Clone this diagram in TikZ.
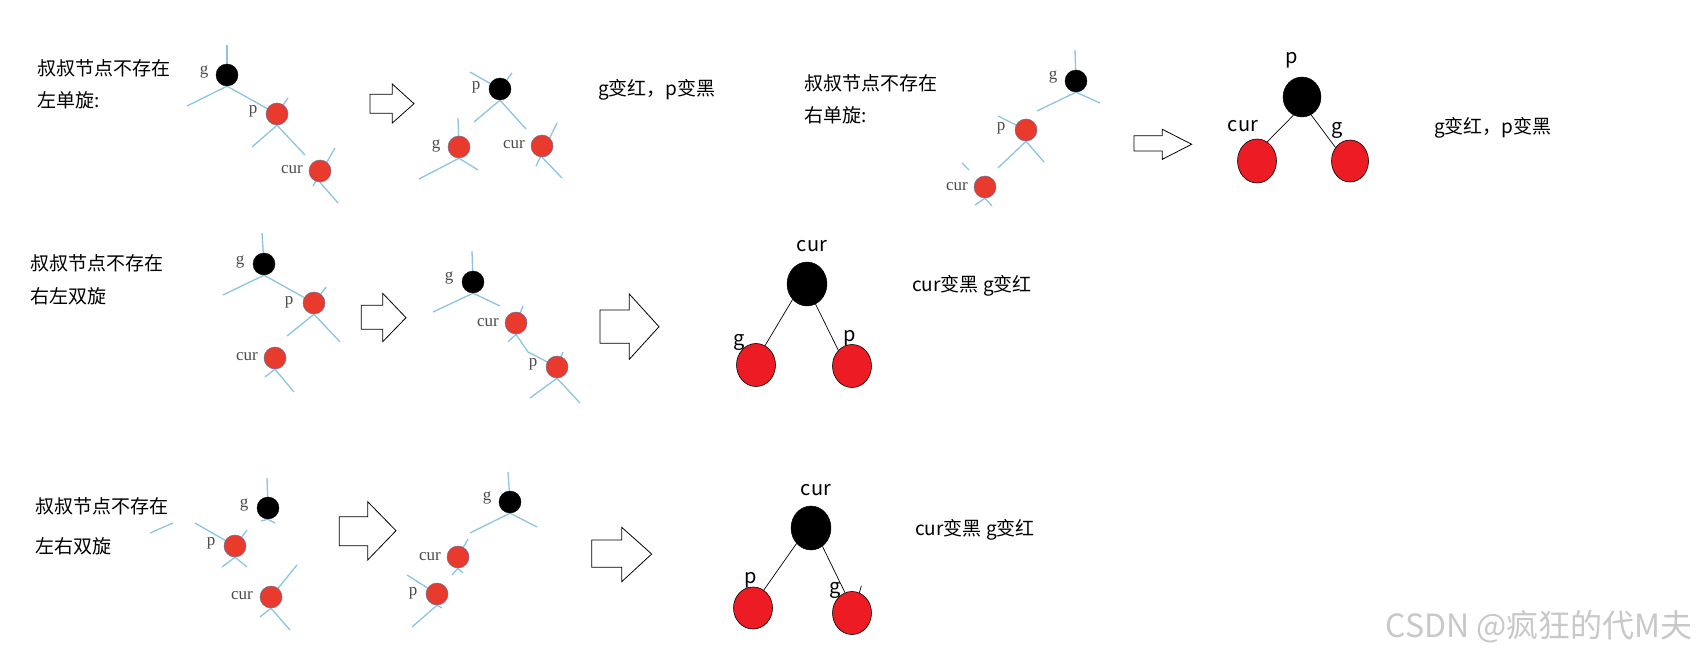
\documentclass[tikz,border=0pt]{standalone}
\usepackage{fontspec}
\setmainfont{Liberation Serif}
\newfontfamily\cjk{Noto Sans CJK SC}
\usetikzlibrary{shapes.geometric,backgrounds}
\definecolor{lineblue}{RGB}{140,196,228}
\definecolor{nodered}{RGB}{232,58,45}
\definecolor{paintred}{RGB}{237,28,36}
\definecolor{lblgray}{RGB}{75,75,75}
\definecolor{wmgray}{RGB}{200,200,200}
\definecolor{rimgray}{RGB}{110,110,150}
\begin{document}
\begin{tikzpicture}[x=1pt,y=-1pt,
  sblack/.style={circle,fill=black,draw=black,minimum size=22pt,inner sep=0pt},
  sred/.style={circle,fill=nodered,draw=rimgray,line width=0.5pt,minimum size=22pt,inner sep=0pt},
  bblack/.style={ellipse,fill=black,draw=black,minimum width=39pt,minimum height=42pt,inner sep=0pt},
  bred/.style={ellipse,fill=paintred,draw=black,line width=0.6pt,minimum width=39pt,minimum height=43pt,inner sep=0pt},
  slbl/.style={text=lblgray,font=\fontsize{17}{17}\selectfont,inner sep=0pt},
  blbl/.style={font=\cjk\fontsize{20}{20}\selectfont,inner sep=0pt},
  txt/.style={anchor=west,font=\cjk\fontsize{19}{19}\selectfont,inner sep=0pt},
  bline/.style={draw=lineblue,line width=1.3pt},
  kline/.style={draw=black,line width=0.7pt},
  blockarrow/.style={draw=black,fill=white,line width=0.8pt,line join=miter}]
\useasboundingbox (0,0) rectangle (1698,658);

% ---------- texts ----------
\node[txt] (t1a) at (37,68) {叔叔节点不存在};
\node[txt] (t1b) at (37,100) {左单旋:};
\node[txt] (r1)  at (598,90) {g变红，p变黑};
\node[txt] (t2a) at (804,83) {叔叔节点不存在};
\node[txt] (t2b) at (804,115) {右单旋:};
\node[txt] (r2)  at (1434,128) {g变红，p变黑};
\node[txt] (t3a) at (30,263) {叔叔节点不存在};
\node[txt] (t3b) at (30,296) {右左双旋};
\node[txt] (r3)  at (912,286) {cur变黑 g变红};
\node[txt] (t4a) at (35,506) {叔叔节点不存在};
\node[txt] (t4b) at (35,546) {左右双旋};
\node[txt] (r4)  at (915,530) {cur变黑 g变红};
\node[anchor=east,text=wmgray,font=\cjk\fontsize{32}{32}\selectfont,inner sep=0pt] (wm) at (1693,627) {CSDN @疯狂的代M夫};

% ---------- tree 1 ----------
\node[sblack] (g1) at (227,75) {};
\node[sred] (p1) at (277,114) {};
\node[sred] (c1) at (320,171) {};
\node[slbl] (lg1) at (204,72) {g};
\node[slbl] (lp1) at (253,111) {p};
\node[slbl] (lc1) at (292,170) {cur};

% ---------- tree 2 ----------
\node[sblack] (p2) at (500,89) {};
\node[sred] (g2) at (459,147) {};
\node[sred] (c2) at (542,146) {};
\node[slbl] (lp2) at (476,87) {p};
\node[slbl] (lg2) at (436,146) {g};
\node[slbl] (lc2) at (514,145) {cur};

% ---------- tree 3 ----------
\node[sblack] (g3) at (1076,81) {};
\node[sred] (p3) at (1026,130) {};
\node[sred] (c3) at (985,187) {};
\node[slbl] (lg3) at (1053,77) {g};
\node[slbl] (lp3) at (1001,128) {p};
\node[slbl] (lc3) at (957,187) {cur};

% ---------- tree 4 (big) ----------
\node[bblack,minimum width=38pt,minimum height=40pt] (p4) at (1302,97) {};
\node[bred,minimum height=44pt] (c4) at (1257,161) {};
\node[bred,minimum width=37pt,minimum height=42pt] (g4) at (1350,161) {};
\node[blbl] (lp4) at (1292,60) {p};
\node[blbl] (lc4) at (1243,126) {cur};
\node[blbl] (lg4) at (1337,130) {g};
\draw[kline] (p4.245) -- (c4.62);
\draw[kline] (p4.297) -- (g4.137);

% ---------- tree 5 ----------
\node[sblack] (g5) at (264,264) {};
\node[sred] (p5) at (314,303) {};
\node[sred] (c5) at (275,358) {};
\node[slbl] (lg5) at (240,262) {g};
\node[slbl] (lp5) at (289,302) {p};
\node[slbl] (lc5) at (247,357) {cur};

% ---------- tree 6 ----------
\node[sblack] (g6) at (473,282) {};
\node[sred] (c6) at (516,323) {};
\node[sred] (p6) at (557,367) {};
\node[slbl] (lg6) at (449,278) {g};
\node[slbl] (lc6) at (488,323) {cur};
\node[slbl] (lp6) at (533,364) {p};

% ---------- tree 7 (big) ----------
\node[bblack,minimum width=40pt,minimum height=44pt] (c7) at (807,284) {};
\node[bred] (g7) at (756,365) {};
\node[bred] (p7) at (852,366) {};
\node[blbl] (lc7) at (812,246) {cur};
\node[blbl] (lg7) at (739,342) {g};
\node[blbl] (lp7) at (850,338) {p};
\draw[kline] (c7.227) -- (g7.65);
\draw[kline] (c7.293) -- (p7.131);

% ---------- tree 8 ----------
\node[sblack] (g8) at (268,508) {};
\node[sred] (p8) at (235,546) {};
\node[sred] (c8) at (271,597) {};
\node[slbl] (lg8) at (244,505) {g};
\node[slbl] (lp8) at (211,543) {p};
\node[slbl] (lc8) at (242,596) {cur};

% ---------- tree 9 ----------
\node[sblack] (g9) at (510,502) {};
\node[sred] (c9) at (458,557) {};
\node[sred] (p9) at (437,594) {};
\node[slbl] (lg9) at (487,498) {g};
\node[slbl] (lc9) at (430,557) {cur};
\node[slbl] (lp9) at (413,593) {p};

% ---------- tree 10 (big) ----------
\node[bblack,minimum width=40pt,minimum height=44pt] (c10) at (811,528) {};
\node[bred,minimum height=42pt] (p10) at (753,608) {};
\node[bred] (g10) at (852,613) {};
\node[blbl] (lc10) at (816,490) {cur};
\node[blbl] (lp10) at (751,580) {p};
\node[blbl] (lg10) at (835,590) {g};
\draw[kline] (c10.227) -- (p10.59);
\draw[kline] (c10.302) -- (g10.109);
\draw[kline] (g10.70) -- ++(2,-7);

% ---------- block arrows ----------
\draw[blockarrow] (370,94.3) -- (392.3,94.3) -- (392.3,84) -- (414,103.7) -- (392.3,123) -- (392.3,113.3) -- (370,113.3) -- cycle;
\draw[blockarrow] (1134,135.7) -- (1162.3,135.7) -- (1162.3,129.3) -- (1191.7,144.3) -- (1162.3,159.3) -- (1162.3,151) -- (1134,151) -- cycle;
\draw[blockarrow] (361.3,305.3) -- (382.7,305.3) -- (382.7,293.3) -- (406,317.7) -- (382.7,341.7) -- (382.7,329.3) -- (361.3,329.3) -- cycle;
\draw[blockarrow] (600,310) -- (629.3,310) -- (629.3,294) -- (659,326.7) -- (629.3,359.3) -- (629.3,343.3) -- (600,343.3) -- cycle;
\draw[blockarrow] (339.3,516.7) -- (367.7,516.7) -- (367.7,501.7) -- (396,530.7) -- (367.7,560) -- (367.7,545.7) -- (339.3,545.7) -- cycle;
\draw[blockarrow] (591.7,540) -- (621.7,540) -- (621.7,527.3) -- (651.7,554) -- (621.7,581.7) -- (621.7,567.3) -- (591.7,567.3) -- cycle;

% ---------- blue connectors (behind the nodes) ----------
\begin{pgfonlayer}{background}
\fill[white] (0,0) rectangle (1698,658);
% tree 1
\draw[bline] (227,45) -- (g1.center);
\draw[bline] (g1.south) -- (187,106);
\draw[bline] (g1.south) -- (p1.center);
\draw[bline] (288,98) -- (p1.center);
\draw[bline] (p1.south) -- (252,147);
\draw[bline] (p1.south) -- (305,155);
\draw[bline] (335,148) -- (313,186);
\draw[bline] (c1.south) -- (338,203);
% tree 2
\draw[bline] (470,72) -- (p2.center);
\draw[bline] (512,73) -- (p2.center);
\draw[bline] (p2.south) -- (474,122);
\draw[bline] (p2.south) -- (526,129);
\draw[bline] (458,118) -- (g2.center);
\draw[bline] (g2.south) -- (419,179);
\draw[bline] (g2.south) -- (478,170);
\draw[bline] (557,123) -- (536,166);
\draw[bline] (c2.south) -- (562,178);
% tree 3
\draw[bline] (1075,50) -- (g3.center);
\draw[bline] (g3.south) -- (1100,103);
\draw[bline] (g3.south) -- (1037,111);
\draw[bline] (998,116) -- (p3.center);
\draw[bline] (p3.south) -- (1044,162);
\draw[bline] (p3.south) -- (998,168);
\draw[bline] (962,163) -- (969,170);
\draw[bline] (c3.south) -- (975,205);
\draw[bline] (c3.south) -- (992,206);
% tree 5
\draw[bline] (262,233) -- (g5.center);
\draw[bline] (g5.south) -- (223,295);
\draw[bline] (g5.south) -- (p5.center);
\draw[bline] (326,287) -- (p5.center);
\draw[bline] (p5.south) -- (287,336);
\draw[bline] (p5.south) -- (340,342);
\draw[bline] (c5.south) -- (265,377);
\draw[bline] (c5.south) -- (294,392);
% tree 6
\draw[bline] (472,251) -- (g6.center);
\draw[bline] (g6.south) -- (433,312);
\draw[bline] (g6.south) -- (500,306);
\draw[bline] (523,306) -- (c6.center);
\draw[bline] (c6.south) -- (508,342);
\draw[bline] (c6.south) -- (528,352) -- (p6.center);
\draw[bline] (563,352) -- (p6.center);
\draw[bline] (p6.south) -- (530,398);
\draw[bline] (p6.south) -- (580,403);
% tree 8
\draw[bline] (267,478) -- (g8.center);
\draw[bline] (g8.south) -- (261,521);
\draw[bline] (g8.south) -- (275,523);
\draw[bline] (150,533) -- (173,523);
\draw[bline] (195,523) -- (p8.center);
\draw[bline] (247,530) -- (p8.center);
\draw[bline] (p8.south) -- (222,567);
\draw[bline] (p8.south) -- (247,567);
\draw[bline] (297,565) -- (c8.center);
\draw[bline] (c8.south) -- (260,617);
\draw[bline] (c8.south) -- (290,630);
% tree 9
\draw[bline] (508,472) -- (g9.center);
\draw[bline] (g9.south) -- (470,533);
\draw[bline] (g9.south) -- (537,527);
\draw[bline] (468,539) -- (c9.center);
\draw[bline] (c9.south) -- (452,575);
\draw[bline] (c9.south) -- (463,573);
\draw[bline] (407,575) -- (p9.center);
\draw[bline] (p9.south) -- (412,627);
\draw[bline] (p9.south) -- (442,608);
\end{pgfonlayer}
\end{tikzpicture}
\end{document}
